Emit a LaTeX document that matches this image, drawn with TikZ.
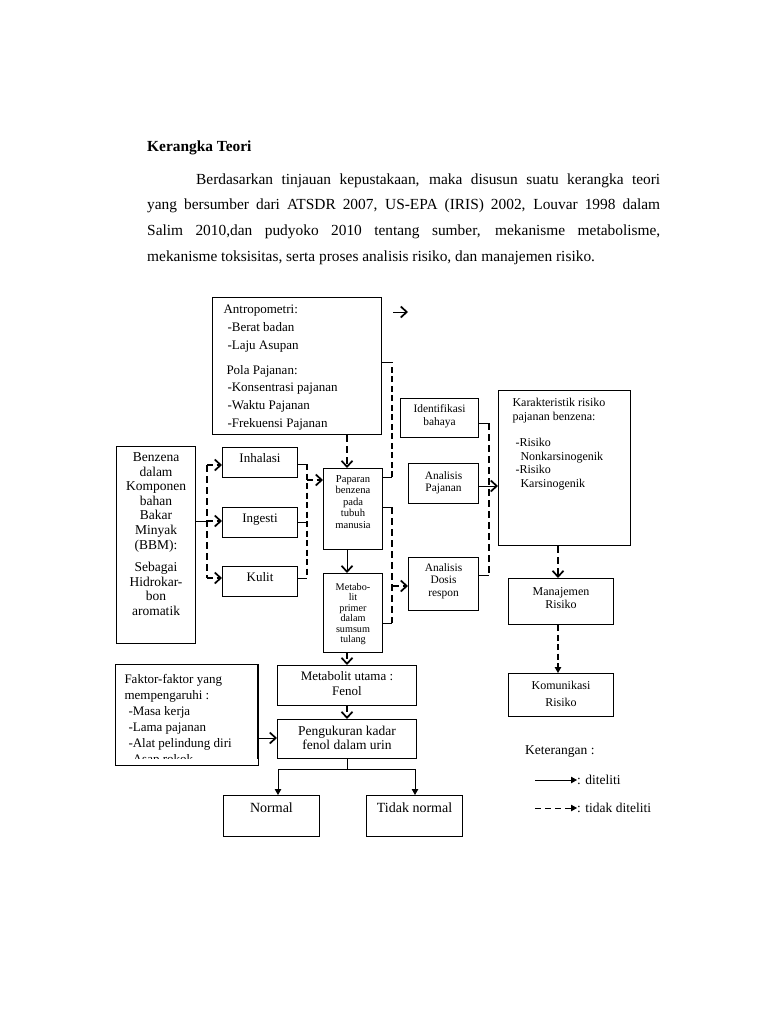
\documentclass[tikz,border=0pt]{standalone}
\usepackage{fontspec}
\setmainfont{Liberation Serif}
\usetikzlibrary{arrows.meta}
\newcommand\fs[2]{\fontsize{#1}{#2}\selectfont}
\newcommand\tb[4]{\parbox[c][#2][t]{#1}{\centering\rule{0pt}{#3}#4}}
\newcommand\tbl[5]{\parbox[c][#2][t]{#1}{\raggedright\leftskip=#4\relax\rule{0pt}{#3}#5}}
\begin{document}
\begin{tikzpicture}[x=1pt,y=-1pt,
  box/.style={draw, line width=1pt, inner sep=0pt, anchor=north west},
  sol/.style={line width=1pt},
  dsh/.style={line width=1.1pt, dash pattern=on 6pt off 3.5pt},
  dshk/.style={line width=1.7pt, dash pattern=on 7pt off 4pt},
  chev/.style={-{Straight Barb[length=6pt,width=11pt,line width=1.7pt]}},
  tri/.style={-{Triangle[length=6pt,width=6.5pt]}},
  lbl/.style={inner sep=0pt, anchor=west, font=\fs{13.5}{16}}
]
\useasboundingbox (0,0) rectangle (768,1024);

% heading and paragraph
\node[anchor=base west, inner sep=0pt, font=\bfseries\fs{15.4}{18}] (title) at (147,151.5) {Kerangka Teori};
\node[anchor=north west, inner sep=0pt, text width=513pt, align=justify, font=\fs{15.4}{25.7}] (para) at (147,172)
 {\noindent\rule{0pt}{12pt}\hspace*{49pt}Berdasarkan tinjauan kepustakaan, maka disusun suatu kerangka teori\linebreak
  yang bersumber dari ATSDR 2007, US-EPA (IRIS) 2002, Louvar 1998 dalam\linebreak
  Salim 2010,dan pudyoko 2010 tentang sumber, mekanisme metabolisme,\linebreak
  mekanisme toksisitas, serta proses analisis risiko, dan manajemen risiko.};

% boxes
\node[box, font=\fs{13}{17.8}] (antro) at (212,297) {\tbl{169pt}{137pt}{16pt}{11pt}{Antropometri:\\\hspace*{4pt}-Berat badan\\\hspace*{4pt}-Laju Asupan\\[7.2pt]\hspace*{3pt}Pola Pajanan:\\\hspace*{4pt}-Konsentrasi pajanan\\\hspace*{4pt}-Waktu Pajanan\\\hspace*{4pt}-Frekuensi Pajanan}};
\node[box, font=\fs{13.5}{14.6}] (benz) at (116,446) {\tb{79pt}{197pt}{15pt}{Benzena\\dalam\\Komponen\\bahan\\Bakar\\Minyak\\(BBM):\\[7.8pt]Sebagai\\Hidrokar-\\bon\\aromatik}};
\node[box, font=\fs{13}{15}] (inh) at (222,447) {\tb{75pt}{30pt}{15pt}{Inhalasi}};
\node[box, font=\fs{13}{15}] (ing) at (222,507) {\tb{75pt}{30pt}{15pt}{Ingesti}};
\node[box, font=\fs{13}{15}] (kul) at (222,566) {\tb{75pt}{30pt}{15pt}{Kulit}};
\node[box, font=\fs{10.6}{11.5}] (pap) at (323,468) {\tb{59pt}{81pt}{13.5pt}{Paparan\\benzena\\pada\\tubuh\\manusia}};
\node[box, font=\fs{10.2}{10.4}] (met) at (323,573) {\tb{59pt}{79pt}{17pt}{Metabo-\\lit\\primer\\dalam\\sumsum\\tulang}};
\node[box, font=\fs{11.4}{13}] (idf) at (400,398) {\tb{78pt}{39pt}{13.6pt}{Identifikasi\\bahaya}};
\node[box, font=\fs{11.4}{12.5}] (ap) at (408,463) {\tb{70pt}{40pt}{15.6pt}{Analisis\\Pajanan}};
\node[box, font=\fs{11.4}{12.5}] (ad) at (408,557) {\tb{70pt}{53pt}{13.6pt}{Analisis\\Dosis\\respon}};
\node[box, font=\fs{12}{14}] (kar) at (498,390) {\tbl{132pt}{155pt}{15.8pt}{14pt}{Karakteristik risiko\\pajanan benzena:\\[12pt]\hspace*{3pt}-Risiko\\[-0.3pt]\hspace*{8pt}Nonkarsinogenik\\[-0.3pt]\hspace*{3pt}-Risiko\\[-0.3pt]\hspace*{8pt}Karsinogenik}};
\node[box, font=\fs{12}{13}] (man) at (508,578) {\tb{105pt}{46pt}{16.8pt}{Manajemen\\Risiko}};
\node[box, font=\fs{12}{17}] (kom) at (508,673) {\tb{105pt}{43pt}{15.8pt}{Komunikasi\\Risiko}};
\begin{scope}
  \clip (114,663) rectangle (259,758);
  \node[box, font=\fs{13}{16}] (fak) at (115,664) {\tbl{142pt}{100pt}{18.5pt}{9pt}{Faktor-faktor yang\\mempengaruhi :\\\hspace*{4pt}-Masa kerja\\\hspace*{4pt}-Lama pajanan\\\hspace*{4pt}-Alat pelindung diri\\[0.5pt]\hspace*{4pt}-Asap rokok}};
\end{scope}
\draw[line width=1pt] (fak.north west) rectangle (fak.south east);
\node[box, font=\fs{13}{15}] (mu) at (277,665) {\tb{139pt}{40pt}{15pt}{Metabolit utama :\\Fenol}};
\node[box, font=\fs{13.5}{14}] (pk) at (277,719) {\tb{139pt}{39pt}{16pt}{Pengukuran kadar\\fenol dalam urin}};
\node[box, font=\fs{14}{16}] (nor) at (223,795) {\tb{96pt}{41pt}{17.2pt}{Normal}};
\node[box, font=\fs{14}{16}] (tn) at (366,795) {\tb{96pt}{41pt}{17.2pt}{Tidak normal}};

% Benzena to exposure routes
\coordinate (bA) at (207,465);
\coordinate (bB) at (207,521);
\coordinate (bC) at (207,578);
\draw[sol] (benz.east |- bB) -- (bB);
\draw[dshk] (bA) -- (bC);
\draw[dsh,chev] (bA) -- (inh.west |- bA);
\draw[dsh,chev] (bB) -- (ing.west |- bB);
\draw[dsh,chev] (bC) -- (kul.west |- bC);

% routes to Paparan
\coordinate (rA) at (307,464);
\coordinate (rB) at (307,522);
\coordinate (rC) at (307,578);
\coordinate (rP) at (307,480);
\draw[sol] (inh.east |- rA) -- (rA);
\draw[sol] (ing.east |- rB) -- (rB);
\draw[sol] (kul.east |- rC) -- (rC);
\draw[dsh] (rA) -- (rC);
\draw[dsh,chev] (rP) -- (pap.west |- rP);

% vertical chain
\draw[dshk,chev] (antro.south -| mu.north) -- (pap.north -| mu.north);
\draw[sol,chev] (pap.south -| mu.north) -- (met.north -| mu.north);
\draw[dsh,chev] (met.south -| mu.north) -- (mu.north);
\draw[dsh,chev] (mu.south) -- (pk.north);

% Paparan - Antropometri loop
\coordinate (lA) at (392,477);
\coordinate (lB) at (392,362);
\draw[sol] (pap.east |- lA) -- (lA);
\draw[dsh] (lA) -- (lB);
\draw[sol] (lB) -- (antro.east |- lB);
\coordinate (s1) at (393,312);
\coordinate (s2) at (408,312);
\draw[sol,chev] (s1) -- (s2);

% Paparan / Metabolit to Analisis Dosis
\coordinate (mA) at (392,507);
\coordinate (mB) at (392,623);
\coordinate (mC) at (392,586);
\draw[sol] (pap.east |- mA) -- (mA);
\draw[dshk] (mA) -- (mB);
\draw[sol] (met.east |- mB) -- (mB);
\draw[dshk,chev] (mC) -- (ad.west |- mC);

% risk analysis bus
\coordinate (iA) at (489,423);
\coordinate (iB) at (489,575);
\coordinate (iC) at (489,486);
\draw[sol] (idf.east |- iA) -- (iA);
\draw[dshk] (iA) -- (iB);
\draw[sol] (ad.east |- iB) -- (iB);
\draw[sol,chev] (ap.east |- iC) -- (kar.west |- iC);

% management chain
\coordinate (kx) at (558,0);
\draw[dshk,chev] (kar.south -| kx) -- (man.north -| kx);
\draw[dsh,tri] (man.south -| kx) -- (kom.north -| kx);

% factors
\coordinate (fy) at (0,738);
\draw[sol,chev] (fak.east |- fy) -- (pk.west |- fy);

% results
\coordinate (nA) at (347,769);
\coordinate (nL) at (278,769);
\coordinate (nR) at (415,769);
\draw[sol] (pk.south -| nA) -- (nA);
\draw[sol] (nL) -- (nR);
\draw[sol,tri] (nL) -- (nor.north -| nL);
\draw[sol,tri] (nR) -- (tn.north -| nR);

% legend
\node[lbl] (ket) at (525,752) {Keterangan :};
\node[lbl] (l1t) at (577,780) {: diteliti};
\node[lbl] (l2t) at (577,808) {: tidak diteliti};
\coordinate (l1a) at (535,780);
\coordinate (l2a) at (535,808);
\draw[sol,tri] (l1a) -- (l1t.west);
\draw[line width=1pt, dash pattern=on 6pt off 4pt, tri] (l2a) -- (l2t.west);
\end{tikzpicture}
\end{document}
